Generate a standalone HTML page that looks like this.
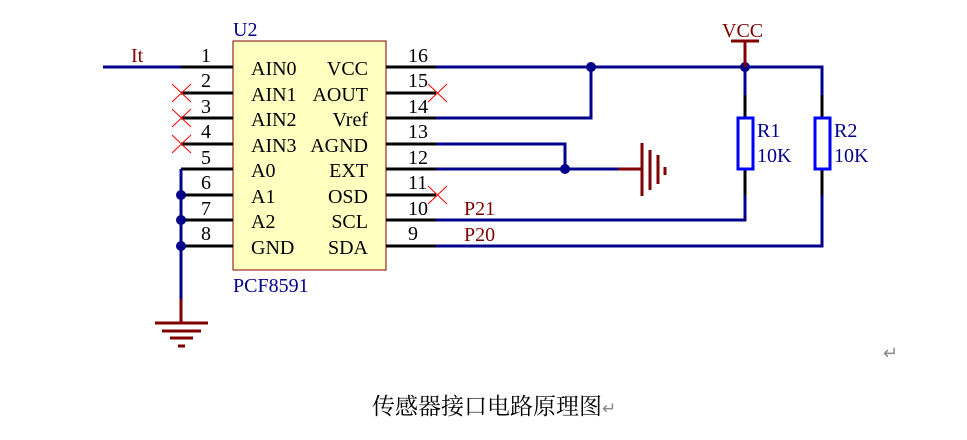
<!DOCTYPE html>
<html><head><meta charset="utf-8"><style>
html,body{margin:0;padding:0;background:#fff;}
svg{display:block;}
text{font-family:"Liberation Serif",serif;font-size:20px;}
</style></head><body>
<svg width="967" height="440" viewBox="0 0 967 440" xmlns="http://www.w3.org/2000/svg">
<rect x="233" y="41" width="153" height="229" fill="#ffffc0" stroke="#800000" stroke-width="1"/>
<text x="233" y="36" fill="#00008b">U2</text>
<text x="233" y="292" fill="#00008b">PCF8591</text>
<g fill="#000" style="font-size:21px">
<text x="251" y="75">AIN0</text><text x="251" y="101">AIN1</text><text x="251" y="126">AIN2</text><text x="251" y="152">AIN3</text>
<text x="251" y="177">A0</text><text x="251" y="203">A1</text><text x="251" y="228">A2</text><text x="251" y="254">GND</text>
<text x="368" y="75" text-anchor="end">VCC</text><text x="368" y="101" text-anchor="end">AOUT</text><text x="368" y="126" text-anchor="end">Vref</text><text x="368" y="152" text-anchor="end">AGND</text>
<text x="368" y="177" text-anchor="end">EXT</text><text x="368" y="203" text-anchor="end">OSD</text><text x="368" y="228" text-anchor="end">SCL</text><text x="368" y="254" text-anchor="end">SDA</text>
</g>
<g fill="#000">
<text x="201" y="62">1</text><text x="201" y="87">2</text><text x="201" y="113">3</text><text x="201" y="138">4</text>
<text x="201" y="164">5</text><text x="201" y="189">6</text><text x="201" y="215">7</text><text x="201" y="240">8</text>
<text x="408" y="62">16</text><text x="408" y="87">15</text><text x="408" y="113">14</text><text x="408" y="138">13</text>
<text x="408" y="164">12</text><text x="408" y="189">11</text><text x="408" y="215">10</text><text x="408" y="240">9</text>
</g>
<g stroke="#000" stroke-width="3">
<path d="M181 67H233M181 93H233M181 118H233M181 144H233M181 169H233M181 195H233M181 220H233M181 246H233"/>
<path d="M386 67H436M386 93H436M386 118H436M386 144H436M386 169H436M386 195H436M386 220H436M386 246H436"/>
<path d="M745 95V117M745 169V195M822 95V117M822 169V195"/>
</g>
<g stroke="#00008b" stroke-width="3" fill="none">
<path d="M103 67H181"/>
<path d="M436 67H822V95M745 67V95M591 67V118H436"/>
<path d="M436 144H565V169M436 169H618"/>
<path d="M436 220H745V195M436 246H822V195"/>
<path d="M181 169V300"/>
</g>
<g fill="#00008b">
<circle cx="591" cy="67" r="5"/><circle cx="745" cy="67" r="5"/><circle cx="565" cy="169" r="5"/>
<circle cx="181" cy="195" r="5"/><circle cx="181" cy="220" r="5"/><circle cx="181" cy="246" r="5"/>
</g>
<rect x="738" y="118" width="15" height="51" fill="none" stroke="#0000ff" stroke-width="3"/>
<rect x="815" y="118" width="15" height="51" fill="none" stroke="#0000ff" stroke-width="3"/>
<g fill="#00008b"><text x="757" y="137">R1</text><text x="757" y="162">10K</text><text x="834" y="137">R2</text><text x="834" y="162">10K</text></g>
<g stroke="#800000" stroke-width="3">
<path d="M731 41H759M745 41V67"/>
<path d="M618 169H641M642 143V196M650 150V190M658 155V184M665 167V175"/>
<path d="M181 299V323M155 323H208M162 331H201M170 338H193M178 346H185"/>
</g>
<g fill="#800000"><text x="722" y="37">VCC</text><text x="131" y="62">It</text><text x="464" y="215">P21</text><text x="464" y="241">P20</text></g>
<g stroke="#ff0000" stroke-width="1">
<path d="M172 84L191 102M191 84L172 102M172 109L191 127M191 109L172 127M172 135L191 153M191 135L172 153"/>
<path d="M428 84L447 102M447 84L428 102M428 186L447 204M447 186L428 204"/>
</g>
<text x="883" y="359" fill="#888" style="font-family:'Liberation Sans',sans-serif;font-size:18px">↵</text>
<text x="372" y="414" fill="#000" style="font-family:'Liberation Serif','Noto Serif CJK SC',serif;font-size:23px">传感器接口电路原理图<tspan fill="#888" font-size="17">↵</tspan></text>
</svg>
</body></html>
